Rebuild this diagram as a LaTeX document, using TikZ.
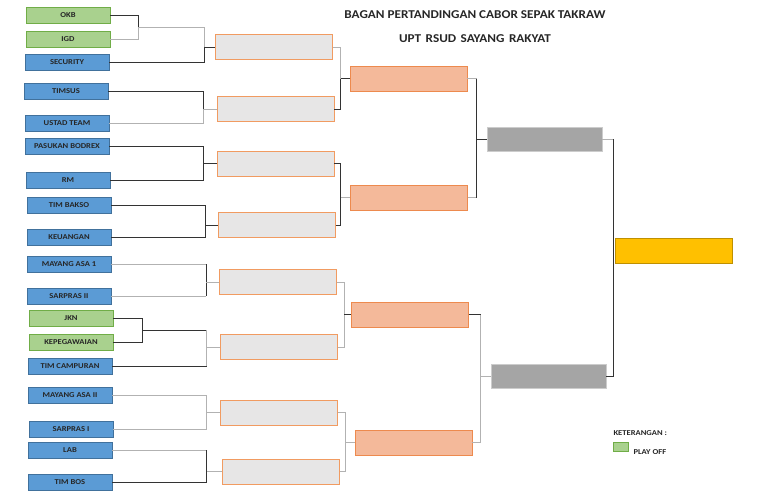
\documentclass[tikz,border=0pt]{standalone}
\usepackage{fontspec}
\setmainfont{Carlito}
\newfontfamily\widefont[FakeStretch=1.14]{Carlito}
\newfontfamily\titlefont[FakeStretch=1.1]{Carlito}
\usepackage{tikz}
\usetikzlibrary{positioning, calc}

\definecolor{teamblue}{HTML}{5B9BD5}
\definecolor{blueline}{HTML}{41719C}
\definecolor{teamgreen}{HTML}{A9D18E}
\definecolor{greenline}{HTML}{70AD47}
\definecolor{roundgray}{HTML}{E7E6E6}
\definecolor{orangeline}{HTML}{F19B61}
\definecolor{salmon}{HTML}{F4B99A}
\definecolor{semiline}{HTML}{ED8A4E}
\definecolor{finalgray}{HTML}{A5A5A5}
\definecolor{champ}{HTML}{FFC000}
\definecolor{champline}{HTML}{BF9000}

\begin{document}
\begin{tikzpicture}[
    x=1pt, y=-1pt,
    team/.style={draw=blueline, fill=teamblue, minimum width=84pt, minimum height=16pt, inner sep=0pt, font=\widefont\fontsize{7.5}{9}\selectfont\bfseries, text=black!85},
    playoff/.style={team, draw=greenline, fill=teamgreen},
    roundbox/.style={draw=orangeline, fill=#1, minimum width=117pt, minimum height=25pt, inner sep=0pt},
    roundbox/.default=roundgray,
    semibox/.style={roundbox=salmon, draw=semiline},
    grbox/.style={draw=gray!40, fill=finalgray, minimum width=115pt, minimum height=24pt, inner sep=0pt},
    champbox/.style={draw=champline, fill=champ, minimum width=117pt, minimum height=25pt, inner sep=0pt},
    dk/.style={draw=black!80, line width=0.7pt},
    lt/.style={draw=black!30, line width=0.7pt},
    ttl/.style={font=\titlefont\fontsize{12}{14}\selectfont\bfseries, text=black!85},
    legtext/.style={font=\widefont\fontsize{7.5}{9}\selectfont\bfseries, text=black!85},
]
\useasboundingbox (0,0) rectangle (768,503);

% Title
\node[ttl] (title) at (475,15) {BAGAN PERTANDINGAN CABOR SEPAK TAKRAW};
\node[ttl] (subtitle) at (475,39) {\spaceskip=4.5pt\relax UPT RSUD SAYANG RAKYAT};

% Column 1: teams
\node[playoff] (okb) at (68,15) {OKB};
\node[playoff] (igd) at (68,39.5) {IGD};
\node[team] (security) at (67,62) {SECURITY};
\node[team] (timsus) at (66,91) {TIMSUS};
\node[team] (ustad) at (67,123) {USTAD TEAM};
\node[team] (bodrex) at (67,146.5) {PASUKAN BODREX};
\node[team] (rm) at (68,180) {RM};
\node[team] (bakso) at (69,205) {TIM BAKSO};
\node[team] (keuangan) at (69,237.5) {KEUANGAN};
\node[team] (mayang1) at (69,264) {MAYANG ASA 1};
\node[team] (sarpras2) at (69,296) {SARPRAS II};
\node[playoff] (jkn) at (71,318.5) {JKN};
\node[playoff] (kepeg) at (71,342) {KEPEGAWAIAN};
\node[team] (campuran) at (70,366) {TIM CAMPURAN};
\node[team] (mayang2) at (70,395) {MAYANG ASA II};
\node[team] (sarpras1) at (71,429) {SARPRAS I};
\node[team] (lab) at (70,450) {LAB};
\node[team] (bos) at (70,482) {TIM BOS};

% Column 2: second round
\node[roundbox] (r1) at (274,47) {};
\node[roundbox] (r2) at (275.5,109) {};
\node[roundbox] (r3) at (275.5,163.5) {};
\node[roundbox] (r4) at (277,225) {};
\node[roundbox] (r5) at (278,282) {};
\node[roundbox] (r6) at (279,347) {};
\node[roundbox] (r7) at (279,412.5) {};
\node[roundbox] (r8) at (281,471.5) {};

% Column 3: quarter finals
\node[semibox] (sA) at (408.5,78.5) {};
\node[semibox] (sB) at (409,197.5) {};
\node[semibox] (sC) at (410,314.5) {};
\node[semibox] (sD) at (413.5,442.5) {};

% Column 4: semi finals and final
\node[grbox] (g1) at (544.5,139) {};
\node[grbox] (g2) at (548.5,376.5) {};
\node[champbox] (fin) at (673.5,250.5) {};

% Legend
\node[legtext, anchor=west] (ket) at (610,433) {KETERANGAN :};
\node[draw=greenline, fill=teamgreen, minimum width=15pt, minimum height=9pt, inner sep=0pt] (legbox) at (620.5,446.5) {};
\node[legtext, anchor=west] (legtxt) at (630,452) {PLAY OFF};

% Brackets: round 1
\coordinate (j1) at ($(okb.east)!0.5!(igd.east)+(28,0)$);
\coordinate (k1) at ($(r1.west)+(-11,0)$);
\draw[dk] (okb.east) -| (j1);
\draw[lt] (igd.east) -| (j1);
\draw[lt] (j1) -| (k1);
\draw[dk] (security.east) -| (k1);
\draw[dk] (k1) -- (r1.west);

\coordinate (k2) at ($(r2.west)+(-13,0)$);
\draw[dk] (timsus.east) -| (k2);
\draw[lt] (ustad.east) -| (k2);
\draw[lt] (k2) -- (r2.west);

\coordinate (k3) at ($(r3.west)+(-13,0)$);
\draw[dk] (bodrex.east) -| (k3);
\draw[dk] (rm.east) -| (k3);
\draw[dk] (k3) -- (r3.west);

\coordinate (k4) at ($(r4.west)+(-12.5,0)$);
\draw[dk] (bakso.east) -| (k4);
\draw[dk] (keuangan.east) -| (k4);
\draw[dk] (k4) -- (r4.west);

\coordinate (k5) at ($(r5.west)+(-13,0)$);
\draw[lt] (mayang1.east) -- (mayang1.east -| k5);
\draw[lt] (sarpras2.east) -- (sarpras2.east -| k5);
\draw[dk] (mayang1.east -| k5) -- (sarpras2.east -| k5);
\draw[lt] (k5) -- (r5.west);

\coordinate (j6) at ($(jkn.east)!0.5!(kepeg.east)+(29,0)$);
\coordinate (k6) at ($(r6.west)+(-13.5,0)$);
\draw[dk] (jkn.east) -| (j6);
\draw[dk] (kepeg.east) -| (j6);
\draw[dk] (j6) -- (j6 -| k6);
\draw[dk] (campuran.east) -- (campuran.east -| k6);
\draw[lt] (j6 -| k6) -- (campuran.east -| k6);
\draw[lt] (k6) -- (r6.west);

\coordinate (k7) at ($(r7.west)+(-13.5,0)$);
\draw[lt] (mayang2.east) -| (k7);
\draw[lt] (sarpras1.east) -| (k7);
\draw[lt] (k7) -- (r7.west);

\coordinate (k8) at ($(r8.west)+(-15.5,0)$);
\draw[lt] (lab.east) -- (lab.east -| k8);
\draw[dk] (lab.east -| k8) -- (bos.east -| k8);
\draw[dk] (bos.east) -- (bos.east -| k8);
\draw[lt] (k8) -- (r8.west);

% Brackets: round 2
\coordinate (m1) at ($(sA.west)+(-9,0)$);
\draw[lt] (r1.east) -| (m1);
\draw[dk] (r2.east) -| (m1);
\draw[dk] (m1) -- (sA.west);

\coordinate (m2) at ($(sB.west)+(-9.5,0)$);
\draw[dk] (r3.east) -| (m2);
\draw[dk] (r4.east) -| (m2);
\draw[lt] (m2) -- (sB.west);

\coordinate (m3) at ($(sC.west)+(-7,0)$);
\draw[lt] (r5.east) -| (m3);
\draw[lt] (r6.east) -| (m3);
\draw[dk] (m3) -- (sC.west);

\coordinate (m4) at ($(sD.west)+(-9.5,0)$);
\draw[lt] (r7.east) -| (m4);
\draw[lt] (r8.east) -| (m4);
\draw[lt] (m4) -- (sD.west);

% Brackets: round 3
\coordinate (n1) at ($(g1.west)+(-10,0)$);
\draw[lt] (sA.east) -- (sA.east -| n1);
\draw[lt] (sB.east) -- (sB.east -| n1);
\draw[dk] (sA.east -| n1) -- (sB.east -| n1);
\draw[dk] (n1) -- (g1.west);

\coordinate (n2) at ($(g2.west)+(-10,0)$);
\draw[dk] (sC.east) -- (sC.east -| n2);
\draw[lt] (sD.east) -- (sD.east -| n2);
\draw[lt] (sC.east -| n2) -- (sD.east -| n2);
\draw[lt] (n2) -- (g2.west);

% Final
\coordinate (f1) at ($(fin.west)+(-1,0)$);
\draw[lt] (g1.east) -- (g1.east -| f1);
\draw[dk] (g2.east) -- (g2.east -| f1);
\draw[dk] (g1.east -| f1) -- (g2.east -| f1);

\end{tikzpicture}
\end{document}
